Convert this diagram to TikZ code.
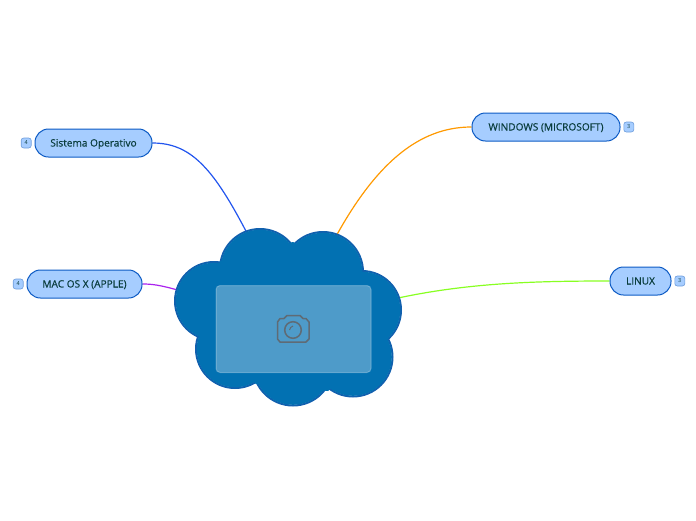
\documentclass[tikz,border=0pt]{standalone}
\usepackage{fontspec}
\setmainfont{Open Sans}
\newfontfamily\boxfont[FakeBold=0.5]{Open Sans}
\usetikzlibrary{positioning, backgrounds}

\definecolor{nubefill}{HTML}{0271B2}
\definecolor{nubeline}{HTML}{1160AE}
\definecolor{boxfill}{HTML}{A6CDFF}
\definecolor{boxline}{HTML}{0D5BC4}
\definecolor{boxtext}{HTML}{0A3D3D}
\definecolor{iconline}{HTML}{5F6B75}

\begin{document}
\begin{tikzpicture}[x=1pt, y=-1pt, node distance=2pt]
	\tikzstyle{box} = [rectangle, draw=boxline, fill=boxfill, text=boxtext, line width=1pt, rounded corners=13.5pt, minimum height=28pt, inner sep=0pt, text height=8pt, text depth=1pt, font=\boxfont\fontsize{10.1}{12}\selectfont]
	\tikzstyle{badge} = [rectangle, draw=boxline!60, fill=boxfill, text=boxtext, line width=.6pt, rounded corners=2.5pt, minimum width=10pt, minimum height=10pt, inner sep=0pt, font=\fontsize{5.5}{6}\selectfont]
	\tikzstyle{link} = [line width=1.2pt]
	\tikzstyle{imagebox} = [rectangle, draw=white, draw opacity=.25, fill=white, fill opacity=.3, line width=1pt, rounded corners=4pt, minimum width=155pt, minimum height=87pt]

	\useasboundingbox (0,0) rectangle (696,520);

	\node [box, minimum width=117pt] (sistema) at (93.5,143) {Sistema Operativo};
	\node [box, minimum width=115pt] (macos) at (84.5,284) {MAC OS X (APPLE)};
	\node [box, minimum width=148pt] (windows) at (546,127) {WINDOWS (MICROSOFT)};
	\node [box, minimum width=61pt] (linux) at (640.5,281) {LINUX};

	\node [badge, left=3pt of sistema] (sistemacount) {4};
	\node [badge, left=3pt of macos] (macoscount) {4};
	\node [badge, right=3pt of windows] (windowscount) {3};
	\node [badge, right=3pt of linux] (linuxcount) {3};

	\node [imagebox] (imagen) at (293.5,329) {};

	% camera icon
	\draw [iconline, line width=1.5pt, line join=round] (280,318.5) -- (284,318.5) -- (287,315.5) -- (300,315.5) -- (303,318.5) -- (306,318.5) to[bend left=20] (309,322) -- (309,339) to[bend left=20] (306,342) -- (280,342) to[bend left=20] (277.5,339) -- (277.5,322) to[bend left=20] cycle;
	\draw [iconline, line width=1.5pt] (293,330) circle (8.3);
	\draw [iconline, line width=1pt] (289.5,330) to[bend left=30] (293,326);

	\begin{scope}[on background layer]
		\draw [link, color={rgb,255:red,34;green,85;blue,238}] (sistema.east) .. controls (205,143) and (228,190) .. (imagen.center);
		\draw [link, color={rgb,255:red,255;green,153;blue,0}] (windows.west) .. controls (405,127) and (350,185) .. (imagen.center);
		\draw [link, color={rgb,255:red,136;green,255;blue,34}] (linux.west) .. controls (500,281) and (410,285) .. (imagen.center);
		\draw [link, color={rgb,255:red,170;green,34;blue,238}] (macos.east) .. controls (160,284) and (175,287) .. (imagen.center);

		% cloud made of seven lobes
		\foreach \cx/\cy/\r in {260/269/41, 323/272/41, 362/310/40, 353/357/40.5, 293/365.5/41, 235/349/40, 214/301/40}
			\draw [nubeline, line width=2pt] (\cx,\cy) circle (\r-1);
		\foreach \cx/\cy/\r in {260/269/41, 323/272/41, 362/310/40, 353/357/40.5, 293/365.5/41, 235/349/40, 214/301/40}
			\fill [nubefill] (\cx,\cy) circle (\r-1.7);
		\fill [nubefill] (220,261) -- (293,242) -- (364,273) -- (389,338) -- (328,391) -- (256,384) -- (198,334) -- cycle;
	\end{scope}
\end{tikzpicture}
\end{document}
